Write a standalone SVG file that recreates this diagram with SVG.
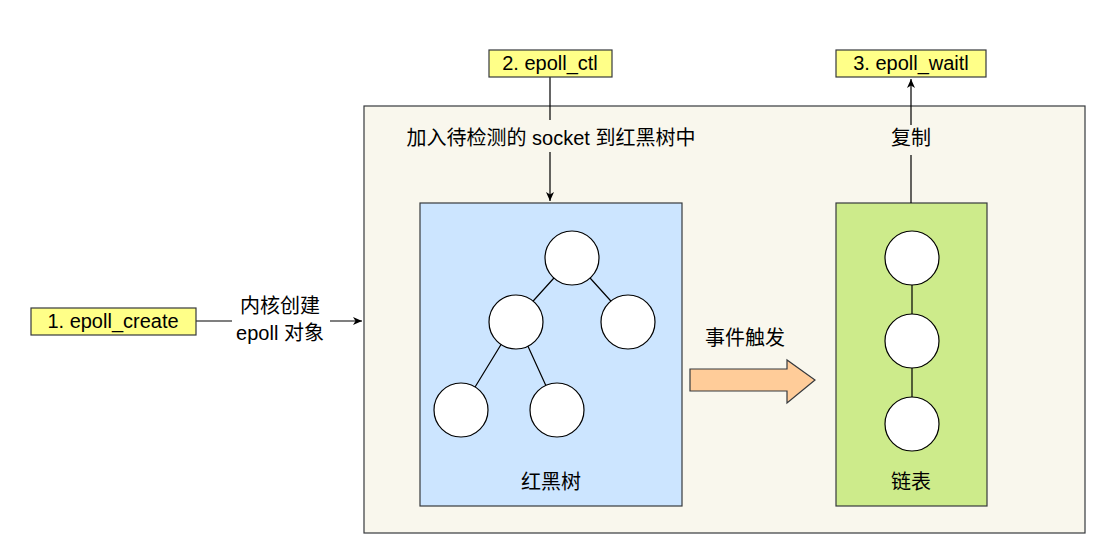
<svg xmlns="http://www.w3.org/2000/svg" width="1114" height="548" viewBox="0 0 1114 548">
<style>
text{font-family:"Liberation Sans","Noto Sans CJK SC",sans-serif;font-size:20px;fill:#000}
.lbl{fill:#ffff88;stroke:#36393d;stroke-width:1.2}
.c{fill:#fff;stroke:#000;stroke-width:1.2}
.ln{stroke:#000;stroke-width:1.2;fill:none}
</style>
<defs><marker id="a" markerWidth="10" markerHeight="10" refX="9" refY="5" orient="auto" markerUnits="userSpaceOnUse"><path d="M0,1 L9,5 L0,9 L2.5,5Z" fill="#000"/></marker></defs>
<rect width="1114" height="548" fill="#fff"/>
<g id="outer"><rect x="364" y="106" width="721" height="427" fill="#f9f7ed" stroke="#36393d" stroke-width="1.2"/></g>
<g id="tree"><rect x="420" y="203" width="262" height="303" fill="#cce5ff" stroke="#36393d" stroke-width="1.2"/>
<text x="551" y="489" text-anchor="middle">红黑树</text></g>
<g id="list"><rect x="836" y="203" width="151" height="303" fill="#cdeb8b" stroke="#36393d" stroke-width="1.2"/>
<text x="911" y="489" text-anchor="middle">链表</text></g>
<g id="connectors">
<path class="ln" d="M196,321 H232 M330,321 H362" marker-end="url(#a)"/>
<path class="ln" d="M550,77 V120 M550,152 V201" marker-end="url(#a)"/>
<path class="ln" d="M911,203 V155 M911,125 V79" marker-end="url(#a)"/>
<path class="ln" d="M572,258 L516,320 M572,258 L628,320 M516,320 L461,410 M516,320 L557,410 M912,258 V424"/>
<path d="M690,369 H787 V360 L815,380 L787,403 V391 H690Z" fill="#ffcc99" stroke="#36393d" stroke-width="1.2"/>
</g>
<g id="n1"><circle class="c" cx="572" cy="258" r="27"/></g>
<g id="n2"><circle class="c" cx="516" cy="322" r="27"/></g>
<g id="n3"><circle class="c" cx="628" cy="322" r="27"/></g>
<g id="n4"><circle class="c" cx="461" cy="410" r="27"/></g>
<g id="n5"><circle class="c" cx="557" cy="410" r="27"/></g>
<g id="l1"><circle class="c" cx="912" cy="258" r="27"/></g>
<g id="l2"><circle class="c" cx="912" cy="341" r="27"/></g>
<g id="l3"><circle class="c" cx="912" cy="424" r="27"/></g>
<g id="b1"><rect class="lbl" x="31" y="308" width="165" height="27"/><text x="113" y="328" text-anchor="middle">1. epoll_create</text></g>
<g id="b2"><rect class="lbl" x="489" y="50" width="123" height="27"/><text x="550" y="70" text-anchor="middle">2. epoll_ctl</text></g>
<g id="b3"><rect class="lbl" x="836" y="50" width="150" height="27"/><text x="911" y="70" text-anchor="middle">3. epoll_waitl</text></g>
<text x="280" y="313" text-anchor="middle">内核创建</text>
<text x="280" y="340" text-anchor="middle">epoll 对象</text>
<text x="551" y="145" text-anchor="middle">加入待检测的 socket 到红黑树中</text>
<text x="911" y="145" text-anchor="middle">复制</text>
<text x="745" y="345" text-anchor="middle">事件触发</text>
</svg>
